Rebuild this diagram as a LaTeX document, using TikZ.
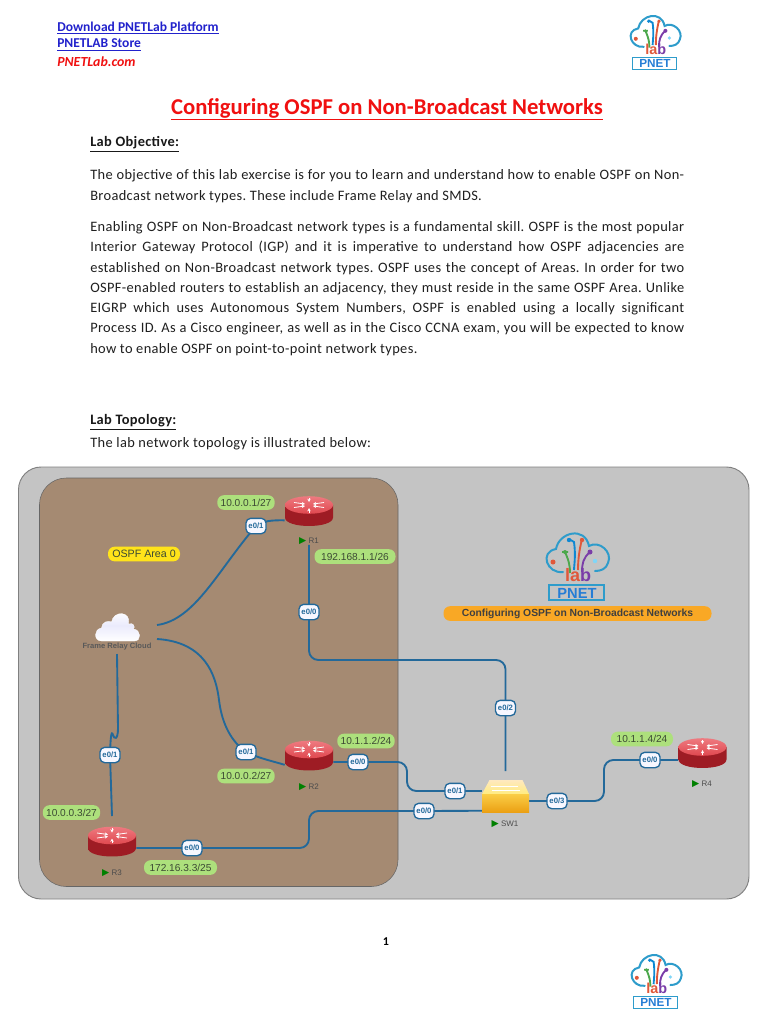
\documentclass[tikz,border=0pt]{standalone}
\usepackage{fontspec}
\setmainfont{Carlito}
\newfontfamily\bodyf[LetterSpace=2.5]{Carlito}
\newfontfamily\diag{Liberation Sans}
\newfontfamily\sym{DejaVu Sans}
\usetikzlibrary{calc,arrows.meta}
\pgfdeclarelayer{bg}
\pgfdeclarelayer{links}
\pgfsetlayers{bg,links,main}
\definecolor{linkc}{HTML}{23699A}
\definecolor{hblue}{HTML}{2222CC}
\definecolor{hred}{HTML}{F01010}
\definecolor{pillg}{HTML}{ADE07C}
\definecolor{txtg}{HTML}{3C4A34}
\definecolor{logob}{HTML}{2E9CCB}
\definecolor{rdark}{HTML}{9E1C24}
\definecolor{rmid}{HTML}{D8444C}
\definecolor{rtopa}{HTML}{EE7A80}
\definecolor{rtopb}{HTML}{E0484F}
\definecolor{logor}{HTML}{E0583A}
\definecolor{logop}{HTML}{7A3DA8}
\definecolor{logog}{HTML}{4CA84C}
\newcommand{\bodyline}[3]{\node[bodyt] (#1) at (90,#2) {\frenchspacing\makebox[445.5pt][s]{#3}};}
\newcommand{\bodylast}[3]{\node[bodyt] (#1) at (90,#2) {\frenchspacing #3};}
\tikzset{
 bodyt/.style={anchor=west,inner sep=0pt,yshift=-1pt,font=\bodyf\fontsize{10.8}{12}\selectfont,text=black!88},
 headt/.style={anchor=west,inner sep=0pt,yshift=-1pt,font=\bodyf\bfseries\fontsize{10.8}{12}\selectfont,text=black!90},
 hlink/.style={anchor=west,inner sep=0pt,yshift=-1pt,text=hblue,font=\bfseries\fontsize{10.15}{12}\selectfont},
 link/.style={draw=linkc,line width=1.4pt,rounded corners=7pt},
 curvelink/.style={draw=linkc,line width=1.4pt},
 pill/.style={rounded corners=5pt,fill=pillg,inner xsep=2.5pt,inner ysep=0pt,minimum height=11pt,text=txtg,font=\diag\fontsize{7.6}{9}\selectfont},
 port/.style={rounded corners=3.5pt,fill=blue!3!white,draw=linkc,line width=1pt,inner sep=0pt,minimum width=15pt,minimum height=11.5pt,text=linkc,font=\diag\bfseries\fontsize{5.8}{7}\selectfont},
 devbox/.style={inner sep=0pt,minimum width=36pt,minimum height=22pt},
 devlab/.style={inner sep=0pt,text=black!70,font=\diag\fontsize{6}{7}\selectfont},
 wa/.style={white,line width=.6pt,-{Stealth[length=2.5pt,width=2.5pt]}},
 router/.pic={
  \path[left color=rdark,middle color=rmid,right color=rdark]
    (-24,-6.5) -- (-24,6) .. controls (-24,17.3) and (24,17.3) .. (24,6) -- (24,-6.5) -- cycle;
  \path[top color=rtopa,bottom color=rtopb] (0,-6.5) ellipse [x radius=24,y radius=8.8];
  \draw[wa] (-15,-4) -- (-4,-5.5);
  \draw[wa] (15,-4) -- (4,-5.5);
  \draw[wa] (-15,-9) -- (-4,-7.5);
  \draw[wa] (15,-9) -- (4,-7.5);
  \draw[wa] (0,-14) -- (0,-9.5);
  \draw[wa] (0,1) -- (0,-3.5);
 },
 switchpic/.pic={
  \path[top color=yellow!30!orange!25!white,bottom color=yellow!70!orange!50!white] (-23.5,-2) -- (-16,-16) -- (17,-16) -- (23.5,-2) -- cycle;
  \path[top color={rgb,255:red,250;green,205;blue,70},bottom color={rgb,255:red,235;green,160;blue,20}] (-23.5,-2) rectangle (23.5,16);
  \draw[white,line width=.4pt] (-15,-10) -- (12,-10) (-14,-6) -- (14,-6);
 },
 cloudpic/.pic={
  \path[top color=white,bottom color=white,middle color=black!14!blue!8!white,draw=white,line width=.2pt]
   (-16,14) .. controls (-24,14) and (-24,2) .. (-16,1) .. controls (-16,-5) and (-9,-7) .. (-6,-5)
   .. controls (-4,-17) and (14,-16) .. (11,-3) .. controls (16,-5) and (18,0) .. (16,2)
   .. controls (24,3) and (24,14) .. (17,14) -- cycle;
 },
 pics/pnetlogo/.style={code={
  \draw[logob,line width=1.5pt,line cap=round]
   (-14,6) .. controls (-30,8) and (-38,-14) .. (-21,-17) .. controls (-18,-34) and (8,-40) .. (12,-20)
   .. controls (22,-26) and (36,-14) .. (31,-3) .. controls (29,3) and (24,5) .. (18,5);
  \draw[logog,line width=1.4pt] (-15,-14) -- (-9,-14) (-12,-14) .. controls (-8,-5) and (-7,0) .. (-7,7);
  \draw[cyan!70!blue,line width=1.4pt] (-8,-27) -- (-3,-24) .. controls (-1,-10) and (-3,0) .. (-3,4);
  \draw[logor,line width=1.4pt] (5,-27) .. controls (2,-15) and (1,-5) .. (1,4);
  \draw[logop,line width=1.4pt] (13,-14) .. controls (6,-8) and (5,-2) .. (5,6);
  \fill[logor] (-24,-4) circle (2.5);
  \fill[logor] (5,-26) circle (2.2);
  \fill[cyan!70!blue] (-8,-26) circle (2.2);
  \fill[logop] (13,-14) circle (2.5);
  \fill[logog] (-12,-14) circle (2);
  \fill[cyan!50!white] (18,-5) circle (2.2);
  \node[inner sep=0pt,font=\diag\bfseries\fontsize{13.5}{14}\selectfont,transform shape] (lg#1) at (1,9.5) {\textcolor{logor}{la}\textcolor{logop}{b}};
  \draw[logob,line width=1pt] (-28,19) rectangle (27,34);
  \node[inner sep=0pt,text=logob!80!blue,font=\diag\bfseries\fontsize{11}{12}\selectfont,transform shape] (lp#1) at (0,27) {PNET};
 }},
}
\begin{document}
\begin{tikzpicture}[x=.75pt,y=-.75pt]
\useasboundingbox (0,0) rectangle (768,1024);
\begin{pgfonlayer}{bg}
 \fill[white] (0,0) rectangle (768,1024);
 \draw[draw=black!50,fill=black!23,line width=.7pt,rounded corners=17pt] (18.5,467) rectangle (749,899);
 \draw[draw=black!60,fill={rgb,255:red,165;green,138;blue,114},line width=.4pt,rounded corners=20pt] (39.5,478) rectangle (398,886.5);
\end{pgfonlayer}

% header
\node[hlink] (h1) at (57,26.5) {\underline{Download PNETLab Platform}};
\node[hlink] (h2) at (57,43.5) {\underline{PNETLAB Store}};
\node[anchor=west,inner sep=0pt,yshift=-1pt,text=hred,font=\bfseries\itshape\fontsize{10.4}{12}\selectfont] (h3) at (57,60.5) {PNETLab.com};
\pic at (655,42) [scale=.8] {pnetlogo=t};
\node[anchor=center,inner sep=0pt,yshift=-1pt,text=hred,font=\bfseries\fontsize{17}{20}\selectfont] (title) at (387,108) {\underline{Configuring OSPF on Non-Broadcast Networks}};

\node[headt] (lo) at (90,143) {\underline{Lab Objective:}};
\bodyline{a1}{174}{The objective of this lab exercise is for you to learn and understand how to enable OSPF on Non-}
\bodylast{a2}{195}{Broadcast network types. These include Frame Relay and SMDS.}
\bodyline{b1}{226}{Enabling OSPF on Non-Broadcast network types is a fundamental skill. OSPF is the most popular}
\bodyline{b2}{246.5}{Interior Gateway Protocol (IGP) and it is imperative to understand how OSPF adjacencies are}
\bodyline{b3}{267}{established on Non-Broadcast network types. OSPF uses the concept of Areas. In order for two}
\bodyline{b4}{287}{OSPF-enabled routers to establish an adjacency, they must reside in the same OSPF Area. Unlike}
\bodyline{b5}{307}{EIGRP which uses Autonomous System Numbers, OSPF is enabled using a locally significant}
\bodyline{b6}{327.5}{Process ID. As a Cisco engineer, as well as in the Cisco CCNA exam, you will be expected to know}
\bodylast{b7}{348}{how to enable OSPF on point-to-point network types.}
\node[headt] (lt) at (90,421) {\underline{Lab Topology:}};
\bodylast{c1}{442}{The lab network topology is illustrated below:}

% devices
\node[devbox] (R1) at (309,511.5) {};
\node[devbox] (R2) at (309,756) {};
\node[devbox] (R3) at (112,842) {};
\node[devbox] (R4) at (702.5,753.5) {};
\node[inner sep=0pt,minimum width=35pt,minimum height=24pt] (SW) at (505.5,796) {};
\node[inner sep=0pt,minimum width=32pt,minimum height=21pt] (cloud) at (117.5,627) {};
\pic at (R1) {router};
\pic at (R2) {router};
\pic at (R3) {router};
\pic at (R4) {router};
\pic at (SW) {switchpic};
\pic at (cloud) {cloudpic};
\pic at (577,566) {pnetlogo=d};

\node[devlab] (lR1) at (309,541) {\textcolor{green!50!black}{\sym\scriptsize ▶} R1};
\node[devlab] (lR2) at (309,787) {\textcolor{green!50!black}{\sym\scriptsize ▶} R2};
\node[devlab] (lR3) at (112,873) {\textcolor{green!50!black}{\sym\scriptsize ▶} R3};
\node[devlab] (lR4) at (702,784) {\textcolor{green!50!black}{\sym\scriptsize ▶} R4};
\node[devlab] (lSW) at (505,824) {\textcolor{green!50!black}{\sym\scriptsize ▶} SW1};
\node[devlab,font=\diag\bfseries\fontsize{5.7}{7}\selectfont,text=black!65] (lcl) at (117,646.5) {Frame Relay Cloud};

% pills
\node[pill] (p1) at (246,502.5) {10.0.0.1/27};
\node[pill,minimum width=60.75pt] (p2) at (355,556.5) {192.168.1.1/26};
\node[pill] (p3) at (366,741) {10.1.1.2/24};
\node[pill] (p4) at (246,776) {10.0.0.2/27};
\node[pill] (p5) at (71.5,812.5) {10.0.0.3/27};
\node[pill,minimum width=54.75pt] (p6) at (180.5,867.5) {172.16.3.3/25};
\node[pill,minimum width=46.5pt] (p7) at (642,739) {10.1.1.4/24};
\node[pill,fill={rgb,255:red,255;green,227;blue,26},minimum width=54pt,font=\diag\fontsize{8}{9}\selectfont] (area) at (144,554) {OSPF Area 0};
\node[pill,fill={rgb,255:red,249;green,168;blue,37},minimum width=201pt,text=black!75,font=\diag\bfseries\fontsize{7.75}{9}\selectfont] (bar) at (577.5,613.5) {Configuring OSPF on Non-Broadcast Networks};

% ports
\node[port] (e1) at (256,526) {e0/1};
\node[port] (e2) at (309,612) {e0/0};
\node[port] (e3) at (110,755) {e0/1};
\node[port] (e4) at (246,752) {e0/1};
\node[port] (e5) at (358,762) {e0/0};
\node[port] (e6) at (192,848) {e0/0};
\node[port] (e7) at (505.5,708) {e0/2};
\node[port] (e8) at (455,791) {e0/1};
\node[port] (e9) at (424,811) {e0/0};
\node[port] (e10) at (557,801) {e0/3};
\node[port] (e11) at (650,760) {e0/0};

\coordinate (cl1) at (157,625);
\coordinate (cl2) at (157,639);
\coordinate (cl3) at (117,654);
\coordinate (r3top) at (112,816);
\coordinate (swtop) at (505.5,771);

\begin{pgfonlayer}{links}
 \draw[curvelink] (cl1) .. controls (195,620) and (218,570) .. (e1.center) .. controls (262,521) and (272,520) .. (R1.200);
 \draw[curvelink] (cl2) .. controls (205,642) and (216,675) .. (219,700) .. controls (222,725) and (232,742) .. (e4.center) .. controls (258,758) and (272,761) .. (R2.200);
 \draw[curvelink] (cl3) -- (118,728) .. controls (118,741) and (114,739) .. (113,735) .. controls (111.5,730) and (110.5,736) .. (e3.center) -- (r3top);
 \draw[link] (lR1.south) -- (e2.center) -- (309,660) -- (505.5,660) -- (e7.center) -- (swtop);
 \draw[link] (R2.-14) -- (e5.center) -- (407,762) -- (407,791) -- (e8.center) -- (SW.168);
 \draw[link] (R3.-14) -- (e6.center) -- (309,848) -- (309,811) -- (e9.center) -- (SW.212.5);
 \draw[link] (SW.-12) -- (e10.center) -- (604,801) -- (604,760) -- (e11.center) -- (R4.195);
\end{pgfonlayer}

\node[inner sep=0pt,font=\bfseries\fontsize{9}{11}\selectfont] (pg) at (386,942) {1};
\pic at (656,981) [scale=.8] {pnetlogo=b};
\end{tikzpicture}
\end{document}
